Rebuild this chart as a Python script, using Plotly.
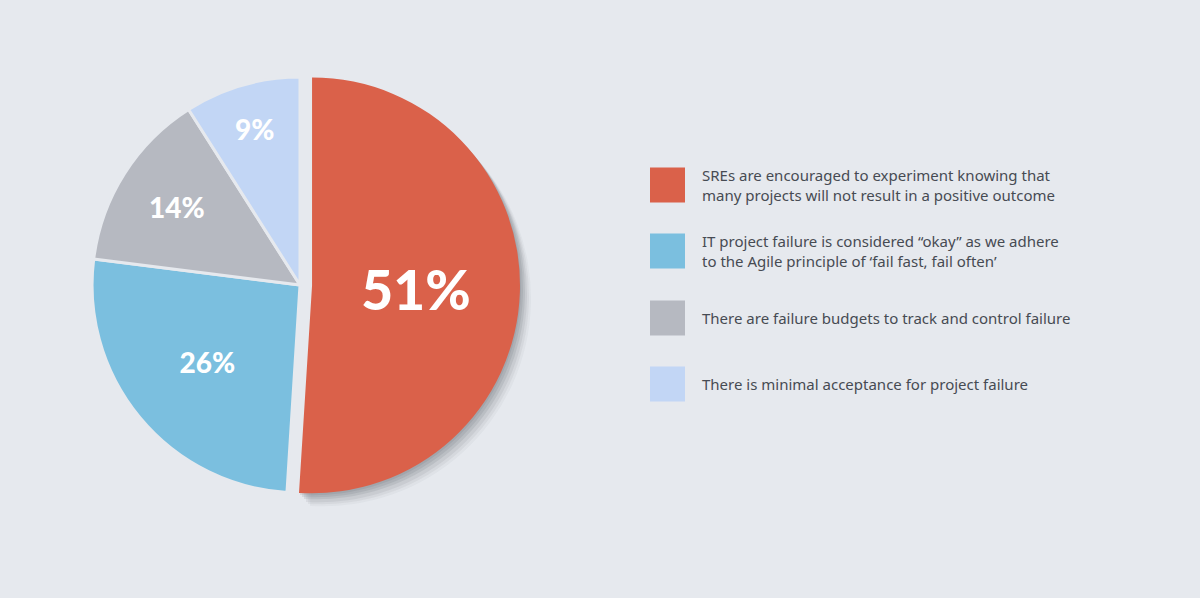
import plotly.graph_objects as go

# data
labels = [
    "SREs are encouraged to experiment knowing that<br>many projects will not result in a positive outcome",
    "IT project failure is considered \u201cokay\u201d as we adhere<br>to the Agile principle of \u2018fail fast, fail often\u2019",
    "There are failure budgets to track and control failure",
    "There is minimal acceptance for project failure",
]
values = [51, 26, 14, 9]
pct_text = ["51%", "26%", "14%", "9%"]
colors = ["#DA614A", "#7BBFDF", "#B6B9C1", "#C2D6F5"]

W, H = 1200, 598
BG = "#E6E9EE"


def px_x(x):
    return x / W


def px_y(y):
    return 1 - y / H


# pie domain in pixels (center ~ (300, 285))
cx, cy, half = 300, 285, 220
pull = [0.058, 0, 0, 0]

fig = go.Figure()

# soft shadow under the big slice, a few stacked layers
for dx, dy, alpha in [(11, 13, 0.04), (9, 11, 0.06), (7, 9, 0.08), (5, 6, 0.10), (3, 4, 0.10), (1, 2, 0.10)]:
    fig.add_trace(go.Pie(
        values=values, sort=False, direction="clockwise", rotation=0,
        pull=pull,
        marker=dict(colors=[f"rgba(60,65,75,{alpha})", "rgba(0,0,0,0)",
                            "rgba(0,0,0,0)", "rgba(0,0,0,0)"],
                    line=dict(width=0)),
        textinfo="none", hoverinfo="skip", showlegend=False,
        domain=dict(x=[px_x(cx - half + dx), px_x(cx + half + dx)],
                    y=[px_y(cy + half + dy), px_y(cy - half + dy)]),
    ))

fig.add_trace(go.Pie(
    labels=labels, values=values, sort=False, direction="clockwise", rotation=0,
    pull=pull,
    marker=dict(colors=colors, line=dict(color=BG, width=[0, 3, 3, 3])),
    text=pct_text, texttemplate="%{text}", textposition="inside",
    insidetextorientation="horizontal",
    insidetextfont=dict(family="Lato", size=[55, 28, 28, 28], color="white", weight=900),
    hoverinfo="label+percent", showlegend=False,
    domain=dict(x=[px_x(cx - half), px_x(cx + half)],
                y=[px_y(cy + half), px_y(cy - half)]),
))

# hand-built legend with big squares
rows_y = [185, 251, 318, 384]
for lab, col, ry in zip(labels, colors, rows_y):
    fig.add_shape(type="rect", xref="paper", yref="paper",
                  x0=px_x(650), x1=px_x(685), y0=px_y(ry + 17.5), y1=px_y(ry - 17.5),
                  fillcolor=col, line=dict(width=0))
    fig.add_annotation(x=px_x(700), y=px_y(ry), xref="paper", yref="paper",
                       text=lab, showarrow=False, xanchor="left", yanchor="middle",
                       align="left",
                       font=dict(family="Noto Sans", size=15, color="#464B53"))

fig.update_layout(
    width=W, height=H,
    margin=dict(l=0, r=0, t=0, b=0),
    paper_bgcolor=BG, plot_bgcolor=BG,
    showlegend=False,
)

fig.write_html("out.html", config={"displayModeBar": False},
               post_script="document.body.style.margin='0';"
                           "document.body.style.background='" + BG + "';")
